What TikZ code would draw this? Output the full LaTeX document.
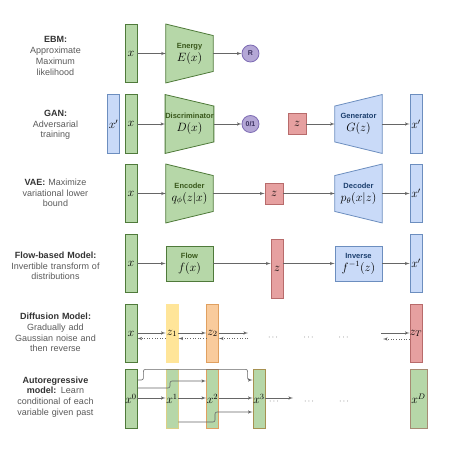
\documentclass[tikz,border=0pt]{standalone}
\usepackage{fontspec}
\setsansfont{Liberation Sans}
\usetikzlibrary{shapes,arrows,positioning,backgrounds}

\definecolor{gfill}{HTML}{B6D7A8}
\definecolor{gdraw}{HTML}{4F7A3A}
\definecolor{gtext}{HTML}{38571A}
\definecolor{bfill}{HTML}{C9DAF8}
\definecolor{bdraw}{HTML}{6C8EBF}
\definecolor{btext}{HTML}{1C3F6E}
\definecolor{rfill}{HTML}{E6A0A0}
\definecolor{rdraw}{HTML}{B86B6B}
\definecolor{pfill}{HTML}{B4A7D6}
\definecolor{pdraw}{HTML}{7E6CB4}
\definecolor{ptext}{HTML}{3C3260}
\definecolor{yfill}{HTML}{FFE599}
\definecolor{ofill}{HTML}{F9CB9C}
\definecolor{odraw}{HTML}{E0A060}
\definecolor{arrowgray}{HTML}{666666}
\definecolor{descgray}{HTML}{595959}
\definecolor{headgray}{HTML}{333333}

\newcommand{\lblhead}[1]{\textcolor{headgray}{\textbf{#1}}}
\newcommand{\shapetitle}[2]{{\sffamily\bfseries\fontsize{7.5}{9}\selectfont\textcolor{#1}{#2}}}

\tikzstyle{bar} = [rectangle, draw, line width=0.8pt, minimum width=12pt,
    minimum height=58.5pt, inner sep=0pt, font=\fontsize{11.5}{13}\selectfont]
\tikzstyle{gbar} = [bar, fill=gfill, draw=gdraw]
\tikzstyle{bbar} = [bar, fill=bfill, draw=bdraw]
\tikzstyle{rbar} = [bar, fill=rfill, draw=rdraw]
\tikzstyle{trap} = [minimum width=47pt, minimum height=58.5pt, inner sep=0pt,
    align=center, font=\fontsize{11.5}{13}\selectfont]
\tikzstyle{gtrap} = [fill=gfill, draw=gdraw, line width=0.8pt]
\tikzstyle{btrap} = [fill=bfill, draw=bdraw, line width=0.8pt]
\tikzstyle{box} = [rectangle, draw, line width=0.8pt, minimum width=47pt,
    minimum height=35pt, inner sep=0pt, align=center, font=\fontsize{11.5}{13}\selectfont]
\tikzstyle{zsq} = [rectangle, draw=rdraw, fill=rfill, line width=0.8pt,
    minimum width=18pt, minimum height=21pt, inner sep=0pt, font=\fontsize{11.5}{13}\selectfont]
\tikzstyle{outc} = [circle, draw=pdraw, fill=pfill, line width=0.8pt, minimum size=17pt,
    inner sep=0pt, text=ptext, font=\sffamily\bfseries\fontsize{7}{8}\selectfont]
\tikzstyle{line} = [draw, -latex', line width=0.6pt, arrowgray]
\tikzstyle{back} = [line, dotted]
\tikzstyle{desc} = [text width=100pt, align=center, text=descgray,
    font=\sffamily\fontsize{9}{10.7}\selectfont]
\tikzstyle{gap} = [inner sep=0pt, text=headgray, font=\fontsize{8.5}{9}\selectfont]

\begin{document}
\begin{tikzpicture}[x=1pt, y=1pt]
	\useasboundingbox (0,0) rectangle (474,450);

	% labels
	\node [desc] (ebmlbl) at (55.5,394) {\lblhead{EBM:}\\ Approximate\\ Maximum\\ likelihood};
	\node [desc] (ganlbl) at (55.5,325) {\lblhead{GAN:}\\ Adversarial\\ training};
	\node [desc] (vaelbl) at (55.5,257) {\lblhead{VAE:} Maximize\\ variational lower\\ bound};
	\node [desc] (flowlbl) at (55.5,184) {\lblhead{Flow-based Model:}\\ Invertible transform of\\ distributions};
	\node [desc] (difflbl) at (55.5,117.5) {\lblhead{Diffusion Model:}\\ Gradually add\\ Gaussian noise and\\ then reverse};
	\node [desc] (arlbl) at (55.5,53) {\lblhead{Autoregressive}\\ \lblhead{model:} Learn\\ conditional of each\\ variable given past};

	% EBM
	\node [gbar] (ebmx) at (131,396.5) {$x$};
	\node [trap, node distance=58.5pt, right of=ebmx] (energy) {\shapetitle{gtext}{Energy}\\$E(x)$};
	\node [outc, node distance=61pt, right of=energy] (reward) {R};

	% GAN
	\node [gbar] (ganx) at (131,326) {$x$};
	\node [bbar, node distance=17.5pt, left of=ganx] (ganxp) {$x'$};
	\node [trap, node distance=58.5pt, right of=ganx] (disc) {\shapetitle{gtext}{Discriminator}\\$D(x)$};
	\node [outc, node distance=61pt, right of=disc] (realfake) {0/1};
	\node [zsq, node distance=46.5pt, right of=realfake] (ganz) {$z$};
	\node [trap, node distance=61.5pt, right of=ganz] (gen) {\shapetitle{btext}{Generator}\\$G(z)$};
	\node [bbar, node distance=57.5pt, right of=gen] (ganout) {$x'$};

	% VAE
	\node [gbar] (vaex) at (131,256.5) {$x$};
	\node [trap, node distance=58.5pt, right of=vaex] (enc) {\shapetitle{gtext}{Encoder}\\$q_\phi(z|x)$};
	\node [zsq, node distance=84.5pt, right of=enc] (vaez) {$z$};
	\node [trap, node distance=84.5pt, right of=vaez] (dec) {\shapetitle{btext}{Decoder}\\$p_\theta(x|z)$};
	\node [bbar, node distance=57.5pt, right of=dec] (vaeout) {$x'$};

	% Flow
	\node [gbar] (flowx) at (131,186.5) {$x$};
	\node [box, fill=gfill, draw=gdraw, node distance=58.5pt, right of=flowx] (flow) {\shapetitle{gtext}{Flow}\\$f(x)$};
	\node [rbar, node distance=87.5pt, right of=flow, yshift=-5.5pt] (flowz) {$z$};
	\node [box, fill=bfill, draw=bdraw, node distance=81.5pt, right of=flowz, yshift=5.5pt] (inv) {\shapetitle{btext}{Inverse}\\$f^{-1}(z)$};
	\node [bbar, node distance=57.5pt, right of=inv] (flowout) {$x'$};

	% Diffusion
	\node [gbar] (diffx) at (131,116.5) {$x$};
	\node [bar, fill=yfill, draw=yfill, node distance=41pt, right of=diffx] (z1) {$z_1$};
	\node [bar, fill=ofill, draw=odraw, node distance=40.5pt, right of=z1] (z2) {$z_2$};
	\node [rbar, node distance=203.5pt, right of=z2] (zT) {$z_T$};
	\coordinate (fwdend) at (248,117);
	\coordinate (backstart) at (248,111.5);
	\coordinate (fwdstart) at (381,117);
	\coordinate (backend) at (383,111);
	\node [gap] (ddots1) at (273,112) {$\cdots$};
	\node [gap] (ddots2) at (308.5,112) {$\cdots$};
	\node [gap] (ddots3) at (343.5,112) {$\cdots$};

	% Autoregressive
	\node [gbar] (x0) at (131,51) {$x^0$};
	\node [bar, fill=gfill, draw=yfill!80!gdraw, node distance=41pt, right of=x0] (x1) {$x^1$};
	\node [bar, fill=gfill, draw=odraw, node distance=40.5pt, right of=x1] (x2) {$x^2$};
	\node [bar, fill=gfill, draw=odraw!60!gdraw, node distance=46.5pt, right of=x2] (x3) {$x^3$};
	\node [bar, minimum width=17pt, fill=gfill, draw=odraw!40!gray, node distance=159.5pt, right of=x3] (xD) {$x^D$};
	\coordinate (arend) at (293,52);
	\node [gap] (adots1) at (274,48) {$\cdots$};
	\node [gap] (adots2) at (309,48) {$\cdots$};
	\node [gap] (adots3) at (344,48) {$\cdots$};

	% trapezoids
	\begin{pgfonlayer}{background}
		\path [gtrap] (energy.north west) -- ([yshift=-11.5pt]energy.north east) -- ([yshift=11.5pt]energy.south east) -- (energy.south west) -- cycle;
		\path [gtrap] (disc.north west) -- ([yshift=-11.5pt]disc.north east) -- ([yshift=11.5pt]disc.south east) -- (disc.south west) -- cycle;
		\path [gtrap] (enc.north west) -- ([yshift=-11.5pt]enc.north east) -- ([yshift=11.5pt]enc.south east) -- (enc.south west) -- cycle;
		\path [btrap] ([yshift=-11.5pt]gen.north west) -- (gen.north east) -- (gen.south east) -- ([yshift=11.5pt]gen.south west) -- cycle;
		\path [btrap] ([yshift=-11.5pt]dec.north west) -- (dec.north east) -- (dec.south east) -- ([yshift=11.5pt]dec.south west) -- cycle;
	\end{pgfonlayer}

	\path [line] (ebmx) -- (energy);
	\path [line] (energy) -- (reward);
	\path [line] (ganx) -- (disc);
	\path [line] (disc) -- (realfake);
	\path [line] (ganz) -- (gen);
	\path [line] (gen) -- (ganout);
	\path [line] (vaex) -- (enc);
	\path [line] (enc) -- (vaez);
	\path [line] (vaez) -- (dec);
	\path [line] (dec) -- (vaeout);
	\path [line] (flowx) -- (flow);
	\path [line] (flow.east) -- (flow.east -| flowz.west);
	\path [line] (inv.west -| flowz.east) -- (inv.west);
	\path [line] (inv) -- (flowout);

	\path [line] ([yshift=0.5pt]diffx.east) -- ([yshift=0.5pt]z1.west);
	\path [line] ([yshift=0.5pt]z1.east) -- ([yshift=0.5pt]z2.west);
	\path [line] ([yshift=0.5pt]z2.east) -- (fwdend);
	\path [line] (fwdstart) -- ([yshift=0.5pt]zT.west);
	\path [back] ([yshift=-5pt]z1.west) -- ([yshift=-5pt]diffx.east);
	\path [back] ([yshift=-5pt]z2.west) -- ([yshift=-5pt]z1.east);
	\path [back] (backstart) -- ([yshift=-5pt]z2.east);
	\path [back] ([yshift=-5.5pt]zT.west) -- (backend);

	\path [line, rounded corners=2pt] ([yshift=19pt]x0.east) -- ++(6,0) |- ([xshift=-5pt]x3.north west) |- ([yshift=19pt]x3.west);
	\path [line, rounded corners=2pt] ([yshift=11pt]x0.east) -- ([xshift=-2pt, yshift=11pt]x1.center) |- ([yshift=18pt]x2.west);
	\path [line, rounded corners=2pt] ([yshift=-23pt]x1.east) -- ([xshift=2.5pt, yshift=-23pt]x2.center) |- ([yshift=-13pt]x3.west);
	\path [line] ([yshift=1pt]x0.east) -- ([yshift=1pt]x1.west);
	\path [line] ([yshift=1pt]x1.east) -- ([yshift=1pt]x2.west);
	\path [line] ([yshift=1pt]x2.east) -- ([yshift=1pt]x3.west);
	\path [line] ([yshift=1pt]x3.east) -- (arend);
\end{tikzpicture}
\end{document}
